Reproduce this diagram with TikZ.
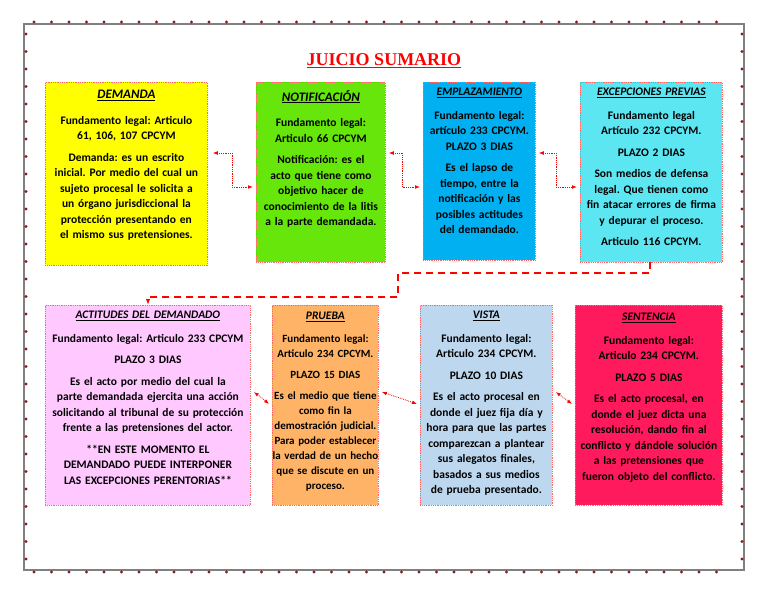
\documentclass[tikz,border=0pt]{standalone}
\usepackage{fontspec}
\setmainfont{Carlito}
\newfontfamily\ttlfont{Liberation Serif}
\usetikzlibrary{arrows.meta}
\definecolor{cyel}{HTML}{FFFF00}
\definecolor{cgrn}{HTML}{66E60A}
\definecolor{cblu}{HTML}{00B0F0}
\definecolor{ccya}{HTML}{5CE6F2}
\definecolor{cpnk}{HTML}{FFC8FF}
\definecolor{corg}{HTML}{FFB366}
\definecolor{cvis}{HTML}{BDD7EE}
\definecolor{csen}{HTML}{FF1A5E}
\definecolor{dred}{HTML}{8B1A1A}
\frenchspacing
\newcommand\hdr[1]{\underline{\itshape\fontsize{11.5}{12}\selectfont #1}}
\tikzset{x=1pt,y=-1pt,
 box/.style={draw=red!60,densely dotted,line width=0.8pt,anchor=north west,inner sep=0pt},
 txt/.style={anchor=north,align=center,font=\bfseries\fontsize{11.5}{15.5}\selectfont,inner sep=0pt,
   execute at begin node={\frenchspacing\hyphenpenalty=10000\exhyphenpenalty=10000}},
 conn/.style={red,densely dotted,line width=0.8pt,{Latex[length=5pt]}-{Latex[length=5pt]}},
 dconn/.style={red,dash pattern=on 7pt off 5pt,line width=1.4pt,-{Latex[length=6pt]}}}
\begin{document}
\begin{tikzpicture}
\useasboundingbox (0,0) rectangle (768,594);
\fill[white] (0,0) rectangle (768,594);
\draw[gray,line width=1.5pt] (24,24) rectangle (744,570);
\foreach \i in {0,...,39} {\fill[dred] ({34+\i*17.5},22) circle (1.7pt);\fill[dred] ({34+\i*17.5},572) circle (1.7pt);}
\foreach \i in {0,...,30} {\fill[dred] (26,{34+\i*17.5}) circle (1.7pt);\fill[dred] (742,{34+\i*17.5}) circle (1.7pt);}
\node[font=\ttlfont\bfseries\fontsize{18}{20}\selectfont,text=red] (title) at (384,61) {\underline{JUICIO SUMARIO}};
% row 1
\node[box,fill=cyel,minimum width=162,minimum height=183] (b1) at (45,82) {};
\node[txt,text width=158] (t1) at ([yshift=-8]b1.north) {\hdr{\fontsize{13}{14}\selectfont DEMANDA}\\[10pt]Fundamento legal: Articulo 61, 106, 107 CPCYM\\[6pt]Demanda: es un escrito inicial. Por medio del cual un sujeto procesal le solicita a un órgano jurisdiccional la protección presentando en el mismo sus pretensiones.};
\node[box,fill=cgrn,minimum width=129,minimum height=180] (b2) at (256,82) {};
\node[txt,text width=127] (t2) at ([yshift=-8]b2.north) {\hdr{\fontsize{13}{14}\selectfont NOTIFICACIÓN}\\[10pt]Fundamento legal: Articulo 66 CPCYM\\[6pt]Notificación: es el acto que tiene como objetivo hacer de conocimiento de la litis a la parte demandada.};
\node[box,fill=cblu,minimum width=112,minimum height=178] (b3) at (423,82) {};
\node[txt,text width=108] (t3) at ([yshift=-6]b3.north) {\hdr{EMPLAZAMIENTO}\\[8pt]Fundamento legal: artículo 233 CPCYM.\\PLAZO 3 DIAS\\[6pt]Es el lapso de tiempo, entre la notificación y las posibles actitudes del demandado.};
\node[box,fill=ccya,minimum width=142,minimum height=180] (b4) at (580,82) {};
\node[txt,text width=136] (t4) at ([yshift=-6]b4.north) {\hdr{EXCEPCIONES PREVIAS}\\[8pt]Fundamento legal Artículo 232 CPCYM.\\[6pt]PLAZO 2 DIAS\\[6pt]Son medios de defensa legal. Que tienen como fin atacar errores de firma y depurar el proceso.\\[6pt]Articulo 116 CPCYM.};
% row 2
\node[box,fill=cpnk,minimum width=205,minimum height=200] (b5) at (45,305) {};
\node[txt,text width=203] (t5) at ([yshift=-6]b5.north) {\hdr{ACTITUDES DEL DEMANDADO}\\[8pt]Fundamento legal: Articulo 233 CPCYM\\[6pt]PLAZO 3 DIAS\\[6pt]Es el acto por medio del cual la parte demandada ejercita una acción solicitando al tribunal de su protección frente a las pretensiones del actor.\\[6pt]**EN ESTE MOMENTO EL DEMANDADO PUEDE INTERPONER LAS EXCEPCIONES PERENTORIAS**};
\node[box,fill=corg,minimum width=106,minimum height=200] (b6) at (272,305) {};
\node[txt,text width=110,font=\bfseries\fontsize{11}{15}\selectfont] (t6) at ([yshift=-7]b6.north) {\hdr{PRUEBA}\\[8pt]Fundamento legal:\\Articulo 234 CPCYM.\\[6pt]PLAZO 15 DIAS\\[6pt]Es el medio que tiene\\como fin la\\demostración judicial.\\Para poder establecer\\la verdad de un hecho\\que se discute en un\\proceso.};
\node[box,fill=cvis,minimum width=132,minimum height=200] (b7) at (420,305) {};
\node[txt,text width=130] (t7) at ([yshift=-6]b7.north) {\hdr{VISTA}\\[8pt]Fundamento legal: Articulo 234 CPCYM.\\[6pt]PLAZO 10 DIAS\\[6pt]Es el acto procesal en donde el juez fija día y hora para que las partes comparezcan a plantear sus alegatos finales, basados a sus medios de prueba presentado.};
\node[box,fill=csen,minimum width=147,minimum height=200] (b8) at (575,305) {};
\node[txt,text width=142] (t8) at ([yshift=-8]b8.north) {\hdr{SENTENCIA}\\[8pt]Fundamento legal: Articulo 234 CPCYM.\\[6pt]PLAZO 5 DIAS\\[6pt]Es el acto procesal, en donde el juez dicta una resolución, dando fin al conflicto y dándole solución a las pretensiones que fueron objeto del conflicto.};
% connectors
\draw[conn] ([xshift=5]b1.east |- 0,153) -- (232,153) -- (232,187) -- ([xshift=-3]b2.west |- 0,187);
\draw[conn] ([xshift=3]b2.east |- 0,153) -- (402,153) -- (402,187) -- ([xshift=-3]b3.west |- 0,187);
\draw[conn] ([xshift=3]b3.east |- 0,153) -- (556,153) -- (556,187) -- ([xshift=-3]b4.west |- 0,187);
\draw[conn] ([xshift=3]b5.east |- 0,392) -- (262,398) -- ([xshift=-3]b6.west |- 0,404);
\draw[conn] ([xshift=3]b6.east |- 0,392) -- (400,398) -- ([xshift=-3]b7.west |- 0,404);
\draw[conn] ([xshift=3]b7.east |- 0,392) -- (564,398) -- ([xshift=-3]b8.west |- 0,404);
\coordinate (d1) at (650,262);
\coordinate (d2) at (148,0);
\draw[dconn] (d1) -- (650,273) -- (398,273) -- (398,297) -- (148,297) -- (d2 |- b5.north);
\end{tikzpicture}
\end{document}
